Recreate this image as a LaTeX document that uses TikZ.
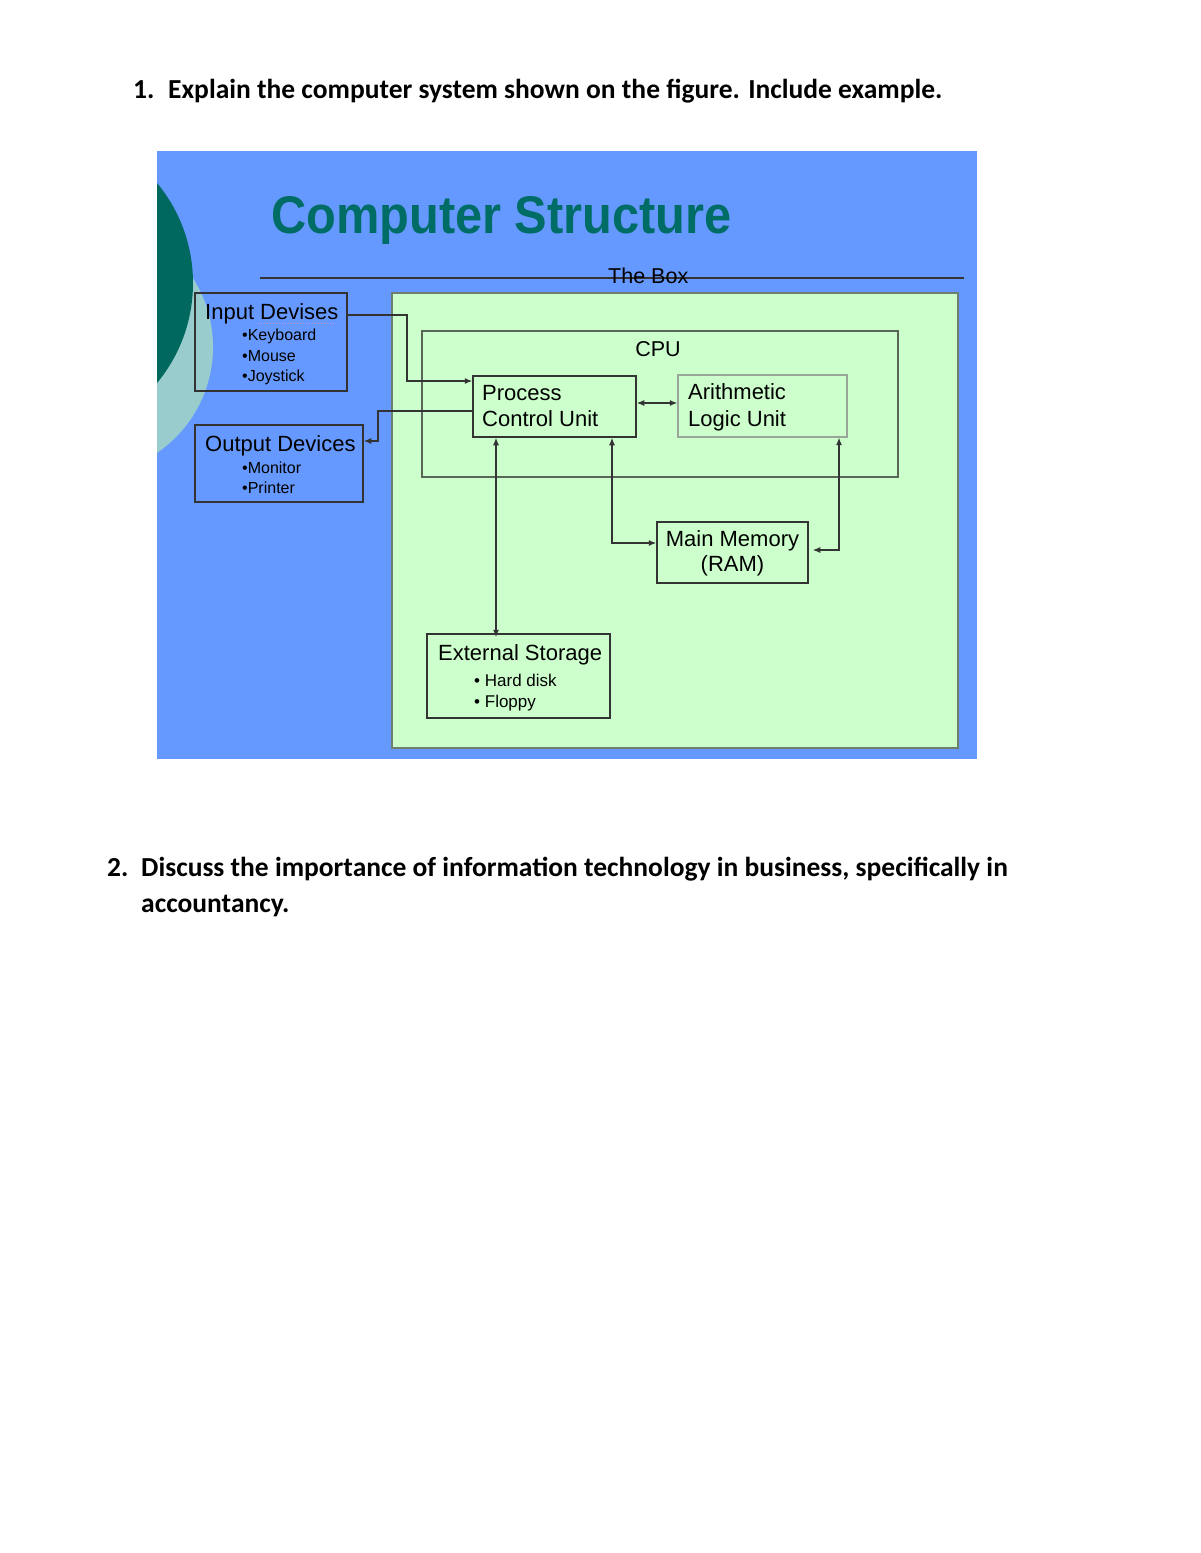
\documentclass[tikz,border=0pt]{standalone}
\usepackage{graphicx}
\usepackage{fontspec}
\setmainfont{Liberation Sans}
\newfontfamily\docfont{Carlito}
\usetikzlibrary{arrows.meta}
\definecolor{slideblue}{HTML}{6699FF}
\definecolor{darkteal}{HTML}{00685F}
\definecolor{lightteal}{HTML}{99CCCC}
\definecolor{titleteal}{HTML}{006C66}
\definecolor{boxgreen}{HTML}{CCFFCC}
\definecolor{boxline}{HTML}{333333}
\definecolor{greenline}{HTML}{6E7F6E}
\definecolor{spellpink}{HTML}{D896B4}
\tikzset{
  txt/.style={inner sep=0pt, anchor=base west, font=\fontsize{22}{26}\selectfont},
  smalltxt/.style={inner sep=0pt, anchor=base west, font=\fontsize{16}{19}\selectfont},
  medtxt/.style={inner sep=0pt, anchor=base west, font=\fontsize{17}{20}\selectfont},
  doctxt/.style={inner sep=0pt, anchor=base west, font=\docfont\bfseries\fontsize{27.5}{32}\selectfont},
  box/.style={draw=boxline, line width=1.5pt, inner sep=0pt},
  conn/.style={draw=boxline, line width=1.2pt},
  tip/.tip={Latex[length=7.5pt,width=6pt]},
  arr/.style={conn, -tip},
  arrtwo/.style={conn, tip-tip}
}
\begin{document}
\begin{tikzpicture}[x=1pt,y=-1pt]
\path[use as bounding box, fill=white] (0,0) rectangle (1200,1553);

% document text
\node[doctxt] (n1) at (133,98) {1.};
\node[doctxt] (q1) at (168,98) {Explain the computer system shown on the figure. Include example.};
\node[doctxt] (n2) at (107,876) {2.};
\node[doctxt] (q2a) at (141,876) {Discuss the importance of information technology in business, specifically in};
\node[doctxt] (q2b) at (141,912) {accountancy.};

% slide background
\fill[slideblue] (157,151) rectangle (977,759);
\begin{scope}
  \clip (157,151) rectangle (977,759);
  \fill[lightteal] (85,347) circle[radius=128];
  \fill[darkteal] (36,283) circle[radius=157];
\end{scope}

% title
\node[inner sep=0pt, anchor=base west, text=titleteal, font=\bfseries\fontsize{53}{60}\selectfont] (title) at (271,233) {\scalebox{0.92}[1]{Computer Structure}};

% The Box line and label
\draw[line width=1.2pt, boxline] (260,278) -- (964,278);
\node[txt, font=\fontsize{21.5}{26}\selectfont] (boxlabel) at (608,283) {The Box};

% green box
\node[draw=greenline, fill=boxgreen, line width=2pt, inner sep=0pt, minimum width=566pt, minimum height=455pt] (thebox) at (675,520.5) {};

% CPU
\node[draw=greenline!80!black, line width=2.4pt, inner sep=0pt, minimum width=476pt, minimum height=146pt] (cpu) at (660,404) {};
\node[inner sep=0pt, anchor=base, font=\fontsize{21.5}{26}\selectfont] (cpulabel) at (658,356) {CPU};

% Process Control Unit
\node[box, minimum width=163pt, minimum height=61pt] (pcu) at (554.5,406.5) {};
\node[txt] (pcu1) at (482,400) {Process};
\node[txt] (pcu2) at (482,426) {Control Unit};

% ALU
\node[draw=greenline!70, line width=1.3pt, inner sep=0pt, minimum width=169pt, minimum height=62pt] (alu) at (762.5,406) {};
\node[txt] (alu1) at (688,399) {Arithmetic};
\node[txt] (alu2) at (688,426) {Logic Unit};

% Main Memory
\node[box, minimum width=151pt, minimum height=61pt] (mem) at (732.5,552.5) {};
\node[inner sep=0pt, anchor=base, font=\fontsize{22}{26}\selectfont] (mem1) at (732.5,546) {Main Memory};
\node[inner sep=0pt, anchor=base, font=\fontsize{22}{26}\selectfont] (mem2) at (732.5,571) {(RAM)};

% External Storage
\node[box, minimum width=183pt, minimum height=84pt] (ext) at (518.5,676) {};
\node[txt] (ext1) at (438,660) {External Storage};
\node[medtxt] (ext2) at (474,686) {\textbullet\ Hard disk};
\node[medtxt] (ext3) at (474,707) {\textbullet\ Floppy};

% Input Devises
\node[box, minimum width=152pt, minimum height=98pt] (input) at (271,342) {};
\node[txt] (in0) at (205,319) {Input Devises};
\draw[spellpink, line width=1pt, dotted] (258,323) -- (336,323);
\node[smalltxt] (in1) at (242,340) {•Keyboard};
\node[smalltxt] (in2) at (242,361) {•Mouse};
\node[smalltxt] (in3) at (242,381) {•Joystick};

% Output Devices
\node[box, minimum width=168pt, minimum height=77pt] (output) at (279,463.5) {};
\node[txt] (out0) at (205,451) {Output Devices};
\node[smalltxt] (out1) at (242,473) {•Monitor};
\node[smalltxt] (out2) at (242,493) {•Printer};

% connectors
\draw[arr] (input.east |- 0,315) -| (407,381) -- (pcu.west |- 0,381);
\draw[arr] (pcu.west |- 0,411) -| (378,441) -- (output.east |- 0,441);
\draw[arrtwo] (pcu.east |- 0,403) -- (alu.west |- 0,403);
\draw[arrtwo] (pcu.south -| 496,0) -- ([yshift=-4pt]ext.north -| 496,0);
\draw[arrtwo] (pcu.south -| 612,0) |- (mem.west |- 0,543);
\draw[arrtwo] (alu.south -| 839,0) |- ([xshift=4pt]mem.east |- 0,550);
\end{tikzpicture}
\end{document}
